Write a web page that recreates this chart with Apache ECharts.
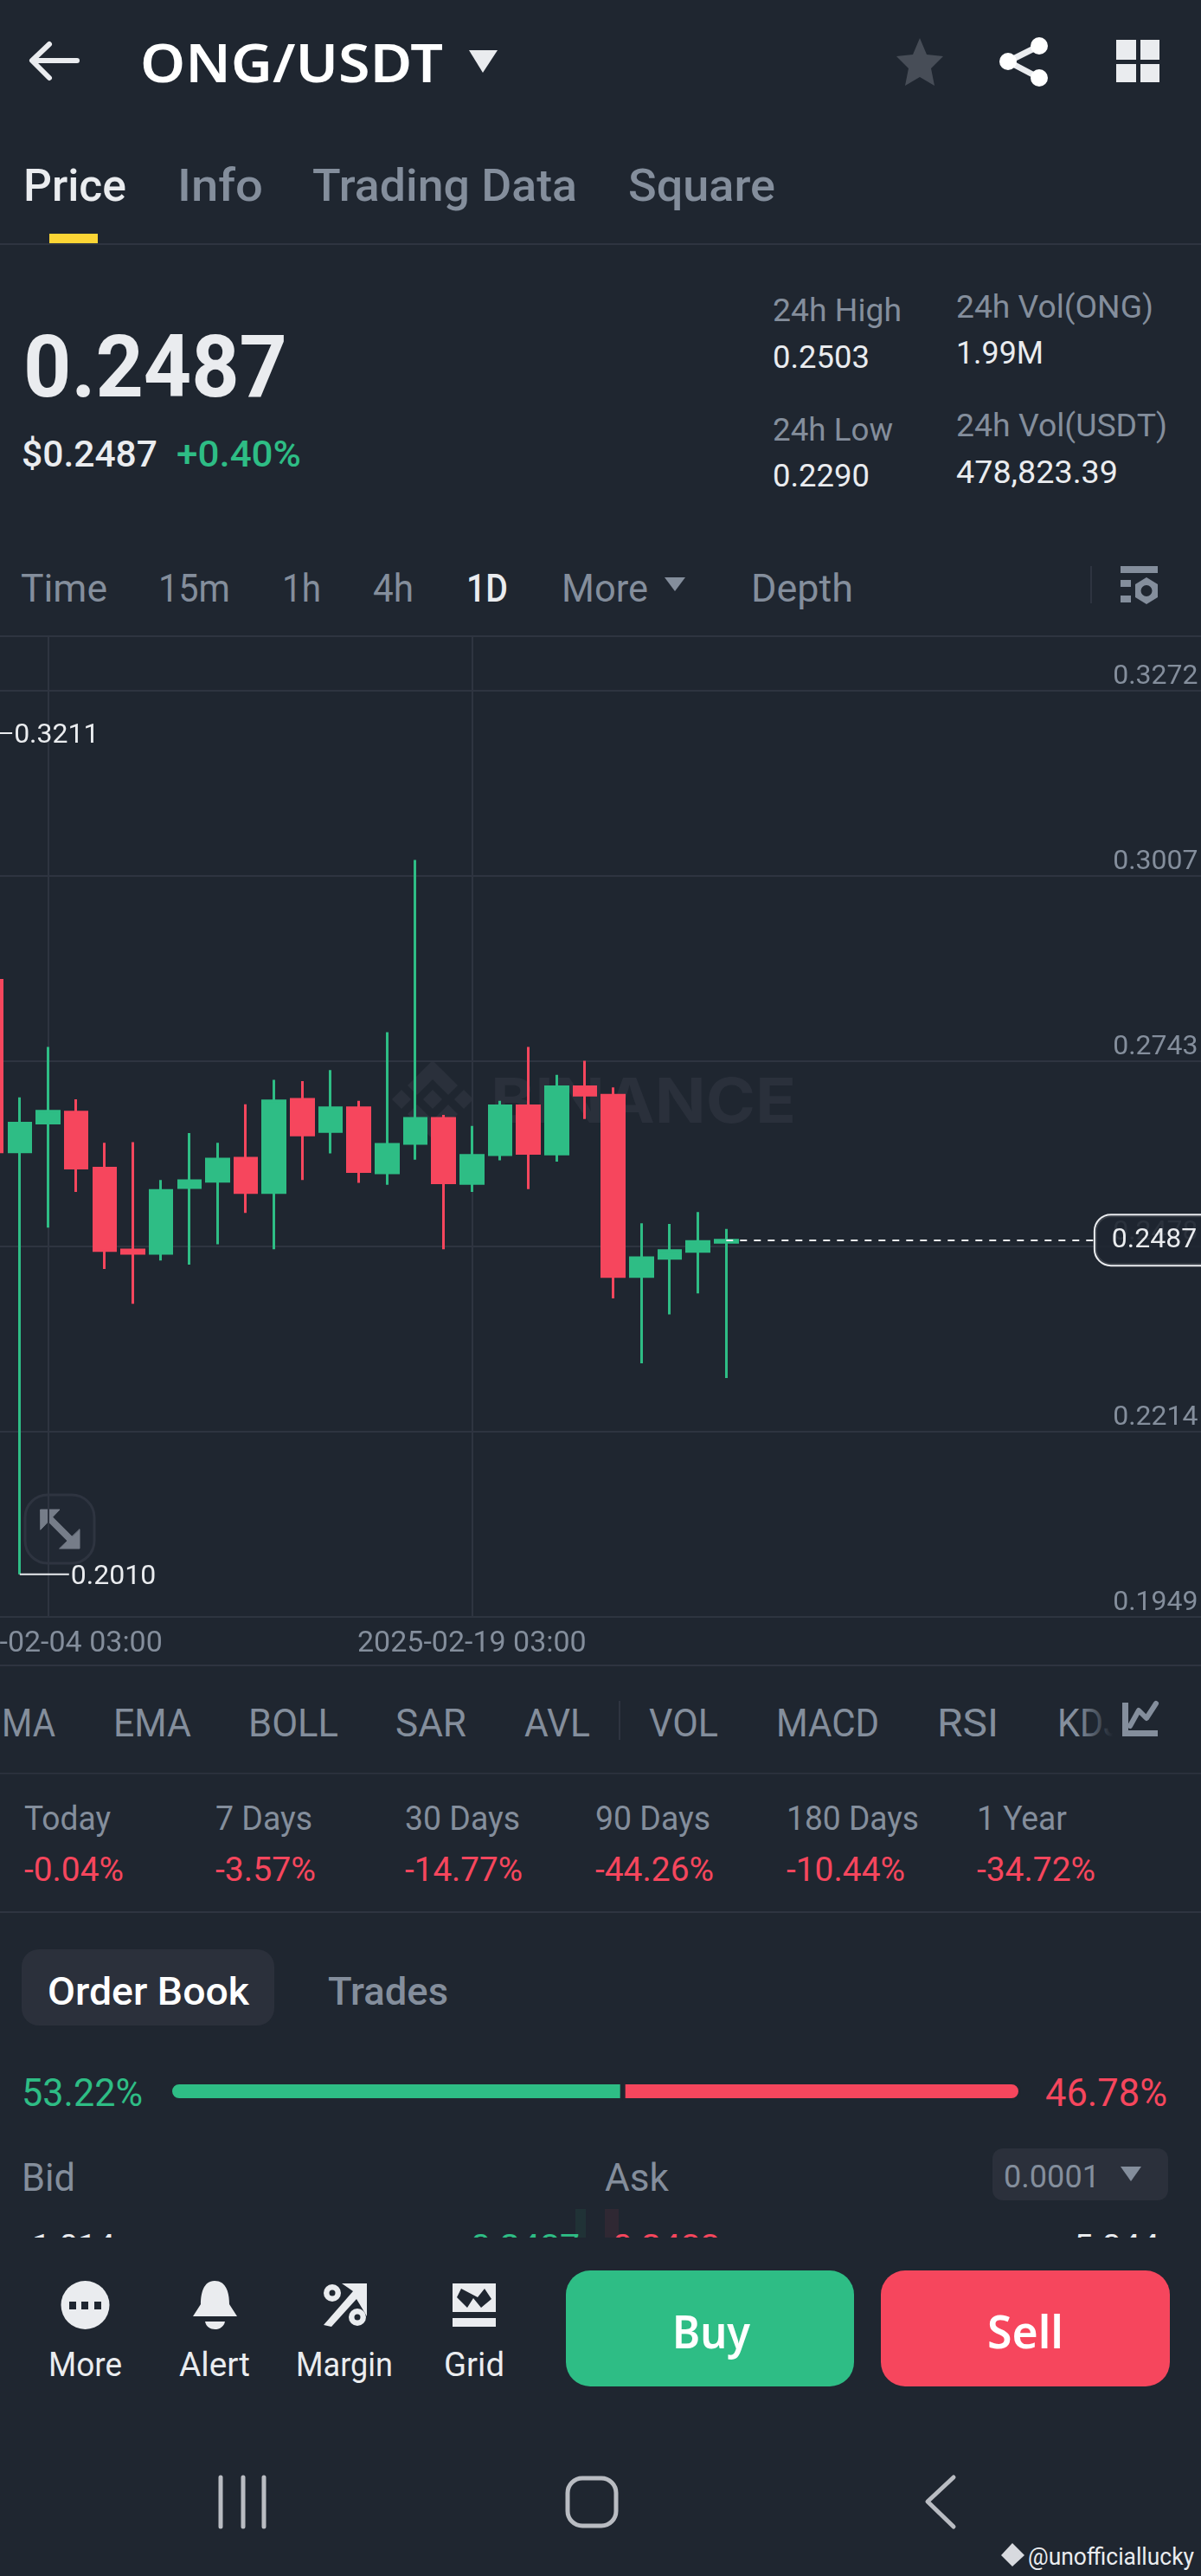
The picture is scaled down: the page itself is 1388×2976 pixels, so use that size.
<!DOCTYPE html>
<html>
<head>
<meta charset="utf-8">
<title>ONG/USDT</title>
<script src="https://cdn.jsdelivr.net/npm/echarts@6/dist/echarts.min.js"></script>
<style>
  html, body { margin: 0; padding: 0; background: #1f2630; }
  #page { position: relative; width: 1388px; height: 2976px; overflow: hidden; }
  #ui, #main { position: absolute; left: 0; top: 0; width: 1388px; height: 2976px; }
</style>
</head>
<body>
<div id="page">
  <svg id="ui" width="1388" height="2976" viewBox="0 0 1388 2976"></svg>
  <div id="main"></div>
</div>
<script>
// candle data
var dates = ['2025-02-02 03:00','2025-02-03 03:00','2025-02-04 03:00','2025-02-05 03:00','2025-02-06 03:00','2025-02-07 03:00','2025-02-08 03:00',
  '2025-02-09 03:00','2025-02-10 03:00','2025-02-11 03:00','2025-02-12 03:00','2025-02-13 03:00','2025-02-14 03:00','2025-02-15 03:00',
  '2025-02-16 03:00','2025-02-17 03:00','2025-02-18 03:00','2025-02-19 03:00','2025-02-20 03:00','2025-02-21 03:00','2025-02-22 03:00',
  '2025-02-23 03:00','2025-02-24 03:00','2025-02-25 03:00','2025-02-26 03:00','2025-02-27 03:00','2025-02-28 03:00'];
var opens  = [0.2858,0.2613,0.2654,0.2670,0.2590,0.2473,0.2468,0.2562,0.2571,0.2604,0.2555,0.2688,0.2642,0.2676,0.2583,0.2625,0.2661,0.2568,0.2609,0.2679,0.2610,0.2706,0.2694,0.2435,0.2461,0.2471,0.2484];
var closes = [0.2613,0.2654,0.2671,0.2590,0.2472,0.2468,0.2558,0.2572,0.2603,0.2555,0.2686,0.2637,0.2676,0.2585,0.2624,0.2661,0.2569,0.2608,0.2679,0.2611,0.2706,0.2694,0.2435,0.2462,0.2472,0.2485,0.2487];
var lows   = [0.2613,0.2010,0.2505,0.2556,0.2446,0.2396,0.2458,0.2452,0.2481,0.2526,0.2474,0.2573,0.2611,0.2569,0.2566,0.2602,0.2474,0.2556,0.2601,0.2560,0.2599,0.2660,0.2404,0.2311,0.2381,0.2411,0.2290];
var highs  = [0.3211,0.2691,0.2763,0.2688,0.2626,0.2627,0.2573,0.2640,0.2626,0.2681,0.2716,0.2714,0.2730,0.2686,0.2784,0.3030,0.2666,0.2650,0.2686,0.2763,0.2723,0.2743,0.2705,0.2511,0.2510,0.2527,0.2503];
var priceTicks = [0.3272,0.3007,0.2743,0.2478,0.2214,0.1949];
var dateTicks = ['2025-02-04 03:00','2025-02-19 03:00'];
var lastPrice = 0.2487;
var emptySlots = 17;  // room right of the last candle

var bidShare = 53.22;
var askShare = 46.78;

var periodNames = ['Today','7 Days','30 Days','90 Days','180 Days','1 Year'];
var periodChanges = ['-0.04%','-3.57%','-14.77%','-44.26%','-10.44%','-34.72%'];

var GREEN = '#2ebd85', RED = '#f6465d', BG = '#1f2630', LINE = '#2e3440';
var GRAY = '#848e9c', WHITE = '#eaecef';

var candles = opens.map(function (o, i) { return [o, closes[i], lows[i], highs[i]]; });
var slots = dates.concat(new Array(emptySlots).fill(''));
var lastIdx = dates.length - 1;

var myChart = echarts.init(document.getElementById('main'), null, { renderer: 'canvas' });
myChart.setOption({
  animation: false,
  backgroundColor: 'transparent',
  grid: [
    { left: -26.2, top: 735, width: 1437.04, height: 1133, outerBoundsMode: 'none' },
    { left: 196, top: 2405, width: 984, height: 22, outerBoundsMode: 'none' }
  ],
  xAxis: [
    {
      type: 'category', gridIndex: 0, data: slots, boundaryGap: true,
      axisLine: { lineStyle: { color: LINE, width: 2 } },
      axisTick: { show: false, alignWithLabel: true, customValues: dateTicks },
      axisLabel: { color: GRAY, fontFamily: 'Roboto', fontSize: 34, margin: 14, customValues: dateTicks },
      splitLine: { show: true, alignWithLabel: true, lineStyle: { color: LINE, width: 2 } }
    },
    { type: 'value', gridIndex: 1, min: 0, max: 100, show: false }
  ],
  yAxis: [
    {
      type: 'value', gridIndex: 0, position: 'right', min: 0.1949, max: 0.33494, scale: true,
      axisLine: { show: false },
      axisTick: { show: false, customValues: priceTicks },
      axisLabel: {
        inside: true, margin: 26.3, color: GRAY, fontFamily: 'Roboto', fontSize: 32,
        verticalAlign: 'bottom', customValues: priceTicks,
        formatter: function (v) { return v.toFixed(4); }
      },
      splitLine: { show: true, lineStyle: { color: LINE, width: 2 } }
    },
    { type: 'category', gridIndex: 1, data: ['ratio'], show: false }
  ],
  series: [
    {
      type: 'candlestick',
      xAxisIndex: 0, yAxisIndex: 0,
      data: candles,
      barWidth: 26,
      itemStyle: { color: GREEN, color0: RED, borderColor: GREEN, borderColor0: RED, borderWidth: 3 },
      markPoint: {
        silent: true,
        symbol: 'rect',
        itemStyle: { color: WHITE },
        label: { show: true, position: 'right', distance: 2, offset: [0, 3], color: WHITE, fontFamily: 'Roboto', fontSize: 32, formatter: '{c}' },
        data: [
          { coord: [0, Math.max.apply(null, highs)], value: Math.max.apply(null, highs).toFixed(4), symbolSize: [24, 2], symbolOffset: [12, 0] },
          { coord: [1, Math.min.apply(null, lows)], value: Math.min.apply(null, lows).toFixed(4), symbolSize: [57, 2], symbolOffset: [28.5, 0] }
        ]
      },
      markLine: {
        silent: true,
        symbol: 'none',
        lineStyle: { color: WHITE, width: 2, type: [8, 8] },
        label: {
          show: true, position: 'end', distance: 2, formatter: lastPrice.toFixed(4),
          color: WHITE, fontFamily: 'Roboto', fontSize: 32, lineHeight: 32,
          backgroundColor: 'rgba(31,38,48,0.88)', borderColor: WHITE, borderWidth: 2,
          borderRadius: [18, 0, 0, 18], padding: [25, 30, 0, 19]
        },
        data: [[{ coord: [lastIdx, lastPrice] }, { coord: [39, lastPrice] }]]
      }
    },
    {
      type: 'bar', xAxisIndex: 1, yAxisIndex: 1, stack: 'book', barWidth: 22, data: [bidShare],
      itemStyle: { color: GREEN, borderColor: BG, borderWidth: 3, borderRadius: [10, 0, 0, 10] }
    },
    {
      type: 'bar', xAxisIndex: 1, yAxisIndex: 1, stack: 'book', barWidth: 22, data: [askShare],
      itemStyle: { color: RED, borderColor: BG, borderWidth: 3, borderRadius: [0, 10, 10, 0] }
    }
  ]
});

// the app screen around the chart
var svgParts = [];
function rect(x, y, w, h, fill, r) {
  svgParts.push('<rect x="' + x + '" y="' + y + '" width="' + w + '" height="' + h + '" fill="' + fill + '" rx="' + (r || 0) + '"/>');
}
function path(d, fill, stroke, sw) {
  svgParts.push('<path d="' + d + '" fill="' + (fill || 'none') + '" stroke="' + (stroke || 'none') + '" stroke-width="' + (sw || 0) + '" stroke-linecap="round" stroke-linejoin="round"/>');
}
// x = left edge, yc = middle of the capitals, w = width in the picture
function text(str, x, yc, size, color, weight, w, family) {
  svgParts.push('<text x="' + x + '" y="' + (yc + size * 0.355) + '" font-size="' + size + '" fill="' + color + '" font-weight="' + (weight || 400) +
    '" font-family="' + (family || 'Roboto') + '"' + (w ? ' textLength="' + w + '" lengthAdjust="spacingAndGlyphs"' : '') + '>' + str + '</text>');
}

// watermark under the candles
path('M500 1225 L529 1254 L518 1265 L500 1247 L482 1265 L471 1254 Z', '#2a303b');
path('M500 1316 L529 1287 L518 1276 L500 1294 L482 1276 L471 1287 Z', '#2a303b');
path('M500 1259 L511 1270 L500 1281 L489 1270 Z', '#2a303b');
path('M464 1259 L475 1270 L464 1281 L453 1270 Z', '#2a303b');
path('M536 1259 L547 1270 L536 1281 L525 1270 Z', '#2a303b');
text('BINANCE', 567, 1271, 72, '#2a303b', 700, 353, 'Inter');

// header
path('M89 70 H38 M57 51 L37 70 L57 90', null, WHITE, 6);
text('ONG/USDT', 162, 73, 62, '#fff', 600, 350, 'Noto Sans');
path('M542 58 H575 L558 84 Z', WHITE);
path('M1063 44 L1071 63 L1090 65 L1076 79 L1080 99 L1063 89 L1046 99 L1050 79 L1036 65 L1055 63 Z', '#474d57');
path('M1201 53 L1165 71 L1201 90', null, WHITE, 7);
svgParts.push('<circle cx="1201" cy="53" r="10" fill="#fff"/><circle cx="1165" cy="71" r="10" fill="#fff"/><circle cx="1201" cy="90" r="10" fill="#fff"/>');
rect(1290, 46, 23, 23, WHITE); rect(1318, 46, 22, 23, WHITE); rect(1290, 74, 23, 21, WHITE); rect(1318, 74, 22, 21, WHITE);

// tabs
text('Price', 27, 214, 52, WHITE, 500, 119);
text('Info', 205, 214, 52, GRAY, 500, 99);
text('Trading Data', 361, 214, 52, GRAY, 500, 306);
text('Square', 726, 214, 52, GRAY, 500, 170);
rect(57, 270, 56, 11, '#fcd535');
rect(0, 281, 1388, 2, LINE);

// price block
text('0.2487', 27, 422, 100, WHITE, 700, 305);
text('$0.2487', 25, 524, 42, WHITE, 500, 157);
text('+0.40%', 204, 524, 42, GREEN, 500, 144);
text('24h High', 893, 358, 37, GRAY, 400, 149);
text('0.2503', 893, 412, 37, WHITE, 400, 112);
text('24h Low', 893, 496, 37, GRAY, 400, 139);
text('0.2290', 893, 549, 37, WHITE, 400, 112);
text('24h Vol(ONG)', 1105, 354, 37, GRAY, 400, 228);
text('1.99M', 1105, 407, 37, WHITE, 400, 101);
text('24h Vol(USDT)', 1105, 491, 37, GRAY, 400, 244);
text('478,823.39', 1105, 545, 37, WHITE, 400, 187);

// interval row
text('Time', 24, 679, 44, GRAY, 400, 100);
text('15m', 183, 679, 44, GRAY, 400, 83);
text('1h', 326, 679, 44, GRAY, 400, 45);
text('4h', 431, 679, 44, GRAY, 400, 47);
text('1D', 539, 679, 44, WHITE, 500, 48);
text('More', 649, 679, 44, GRAY, 400, 100);
path('M768 667 H792 L780 683 Z', GRAY);
text('Depth', 868, 679, 44, GRAY, 400, 118);
rect(1260, 654, 2, 43, LINE);
rect(1295, 654, 43, 8, GRAY); rect(1295, 670, 12, 8, GRAY); rect(1295, 688, 12, 8, GRAY);
path('M1325 667 L1338 675 V690 L1325 698 L1312 690 V675 Z M1325 676 A6.5 6.5 0 1 0 1325 689 A6.5 6.5 0 1 0 1325 676 Z', GRAY);
rect(0, 734, 1388, 2, LINE);

// expand button on the chart
rect(29, 1727, 80, 79, 'rgba(46,52,64,0.18)', 26);
svgParts.push('<rect x="29" y="1727" width="80" height="79" rx="26" fill="none" stroke="' + LINE + '" stroke-width="3"/>');
path('M47 1744 H69 L47 1767 Z', '#767d89', '#767d89', 1);
path('M92 1767 V1789 H69 Z', '#767d89', '#767d89', 1);
path('M56 1753 L83 1780', null, '#767d89', 8);

// indicator row
rect(0, 1923, 1388, 2, LINE);
text('MA', 2, 1990, 44, GRAY, 400, 62);
text('EMA', 131, 1990, 44, GRAY, 400, 90);
text('BOLL', 287, 1990, 44, GRAY, 400, 104);
text('SAR', 457, 1990, 44, GRAY, 400, 82);
text('AVL', 606, 1990, 44, GRAY, 400, 76);
rect(715, 1965, 2, 45, LINE);
text('VOL', 750, 1990, 44, GRAY, 400, 80);
text('MACD', 897, 1990, 44, GRAY, 400, 119);
text('RSI', 1083, 1990, 44, GRAY, 400, 71);
text('KDJ', 1222, 1990, 44, GRAY, 400, 76);
svgParts.push('<defs><linearGradient id="fade"><stop offset="0" stop-color="' + BG + '" stop-opacity="0"/><stop offset="0.75" stop-color="' + BG + '"/></linearGradient></defs>');
rect(1245, 1960, 55, 60, 'url(#fade)');
rect(1290, 1960, 60, 60, BG);
path('M1297 1967 H1304 V1999 H1338 V2006 H1297 Z', GRAY);
path('M1306 1994 L1316 1976 L1325 1985 L1336 1968', null, GRAY, 6);
rect(0, 2048, 1388, 1.5, LINE);

// change over time
var periodX = [28, 249, 468, 688, 909, 1129];
var periodW = [100, 112, 133, 133, 153, 104];
var changeW = [115, 116, 136, 137, 137, 137];
periodNames.forEach(function (n, i) { text(n, periodX[i], 2101, 38, GRAY, 400, periodW[i]); });
periodChanges.forEach(function (c, i) { text(c, periodX[i], 2160, 38, RED, 400, changeW[i]); });
rect(0, 2208, 1388, 2, LINE);

// order book
rect(25, 2252, 292, 88, '#2b303b', 20);
text('Order Book', 55, 2300, 45, '#fff', 500, 233);
text('Trades', 379, 2300, 45, GRAY, 500, 139);
text(bidShare.toFixed(2) + '%', 25, 2417, 44, GREEN, 400, 140);
text(askShare.toFixed(2) + '%', 1208, 2417, 44, RED, 400, 141);
text('Bid', 25, 2515, 44, GRAY, 400, 62);
text('Ask', 699, 2515, 44, GRAY, 400, 74);
rect(1147, 2482, 203, 60, '#2b303b', 12);
text('0.0001', 1160, 2514, 36, GRAY, 400, 111);
path('M1295 2503 H1319 L1307 2520 Z', GRAY);
svgParts.push('<defs><clipPath id="cut"><rect x="0" y="2540" width="1388" height="45"/></clipPath></defs><g clip-path="url(#cut)">');
rect(665, 2552, 12, 40, 'rgba(46,189,133,0.08)');
rect(699, 2552, 16, 40, 'rgba(246,70,93,0.08)');
text('1.014', 37, 2594, 37, WHITE, 400, 96);
text('0.2487', 544, 2594, 37, GREEN, 400, 126);
text('0.2488', 708, 2594, 37, RED, 400, 124);
text('5.044', 1241, 2594, 37, WHITE, 400, 99);
svgParts.push('</g>');

// bottom bar
svgParts.push('<ellipse cx="98.5" cy="2663" rx="28" ry="28" fill="' + WHITE + '"/>');
rect(80, 2659, 8, 9, BG); rect(94, 2659, 8, 9, BG); rect(109, 2659, 8, 9, BG);
path('M248 2635 C262 2635 265 2650 265 2662 L274 2676 H223 L232 2662 C232 2650 235 2635 248 2635 Z M237 2682 H260 C258 2694 239 2694 237 2682 Z', WHITE);
path('M424 2638 V2676 L412 2656 L383 2688 L374 2686 L408 2647 L395 2638 Z', WHITE);
svgParts.push('<circle cx="384" cy="2649" r="10" fill="' + WHITE + '"/><circle cx="384" cy="2649" r="3.5" fill="' + BG + '"/><circle cx="413" cy="2677" r="10" fill="' + WHITE + '"/><circle cx="413" cy="2677" r="3.5" fill="' + BG + '"/>');
path('M523 2638 H573 V2671 H523 Z M533 2644 L528 2654 L540 2666 L547 2655 L556 2666 L568 2656 L560 2644 L552 2654 Z', WHITE);
rect(523, 2678, 50, 10, WHITE);
text('More', 56, 2732, 38, WHITE, 400, 85);
text('Alert', 207, 2732, 38, WHITE, 400, 82);
text('Margin', 342, 2732, 38, WHITE, 400, 112);
text('Grid', 513, 2732, 38, WHITE, 400, 70);
rect(654, 2623, 333, 134, GREEN, 28);
rect(1018, 2623, 334, 134, RED, 28);
text('Buy', 777, 2695, 52, '#fff', 600, 90, 'Noto Sans');
text('Sell', 1141, 2695, 52, '#fff', 600, 88, 'Noto Sans');

// android nav
path('M255 2862 V2919 M281 2862 V2919 M305 2862 V2919', null, '#b9bcc2', 5);
svgParts.push('<rect x="656" y="2863" width="56" height="55" rx="17" fill="none" stroke="#b9bcc2" stroke-width="5"/>');
path('M1102 2862 L1072 2890 L1102 2919', null, '#b9bcc2', 5);

// corner tag
path('M1170 2938 L1184 2952 L1170 2965 L1157 2952 Z', '#d8dadf');
text('@unofficiallucky', 1188, 2953, 27, WHITE, 400, 192);

document.getElementById('ui').innerHTML = svgParts.join('');
</script>
</body>
</html>
